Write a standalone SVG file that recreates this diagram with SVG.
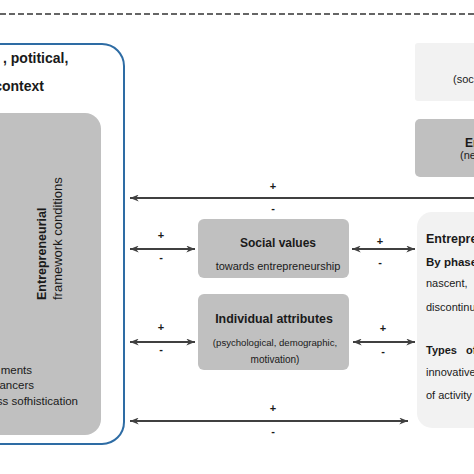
<svg xmlns="http://www.w3.org/2000/svg" width="474" height="474" viewBox="0 0 474 474">
<defs>
<style>
text{font-family:"Liberation Sans",Arial,sans-serif;fill:#1a1a1a}
.b{font-weight:bold}
.sign{font-size:11px;text-anchor:middle;font-weight:bold}
.conn line{stroke:#404040;stroke-width:1.8}
.grey{fill:#c0c0c0}
.light{fill:#f2f2f2}
</style>
<marker id="ah" viewBox="0 0 10 8" refX="10" refY="4" markerWidth="9" markerHeight="7" markerUnits="userSpaceOnUse" orient="auto-start-reverse">
<path d="M0,0 L10,4 L0,8 L3,4 Z" fill="#404040"/>
</marker>
</defs>
<rect width="474" height="474" fill="#ffffff"/>
<line x1="0" y1="14" x2="474" y2="14" stroke="#333" stroke-width="1.4" stroke-dasharray="6,3"/>

<g id="context">
<rect x="-30" y="44" width="154" height="400" rx="22" fill="#ffffff" stroke="#2e6ca4" stroke-width="2"/>
<text class="b" x="3" y="63" font-size="14">, potitical,</text>
<text class="b" x="44" y="91" font-size="14" text-anchor="end">context</text>
</g>

<g id="framework">
<rect class="grey" x="-30" y="113" width="131" height="322" rx="16"/>
<text class="b" font-size="12.5" transform="translate(46,300) rotate(-90)">Entrepreneurial</text>
<text font-size="13" transform="translate(62,300) rotate(-90)">framework conditions</text>
<text x="32" y="374" font-size="11.5" text-anchor="end">ments</text>
<text x="34" y="389" font-size="11.5" text-anchor="end">ancers</text>
<text x="78" y="405" font-size="11.5" text-anchor="end">ss sofhistication</text>
</g>

<g id="social-values">
<rect class="grey" x="198" y="219" width="151" height="59" rx="6"/>
<text class="b" x="278" y="247" font-size="12" text-anchor="middle">Social values</text>
<text x="278" y="270" font-size="11" text-anchor="middle">towards entrepreneurship</text>
</g>

<g id="individual-attributes">
<rect class="grey" x="198" y="294" width="151" height="76" rx="6"/>
<text class="b" x="274" y="323" font-size="12.4" text-anchor="middle">Individual attributes</text>
<text x="275" y="346" font-size="9.6" text-anchor="middle">(psychological, demographic,</text>
<text x="275" y="363" font-size="10" text-anchor="middle">motivation)</text>
</g>

<g id="top-right">
<rect class="light" x="415" y="43" width="80" height="58" rx="3"/>
<text x="453" y="83" font-size="11">(soc</text>
</g>

<g id="mid-right">
<rect class="grey" x="415" y="119" width="80" height="58" rx="5"/>
<text class="b" x="465" y="147" font-size="12">En</text>
<text x="460" y="159" font-size="11">(ne</text>
</g>

<g id="entrepreneurial-activity">
<rect class="light" x="417" y="212" width="80" height="216" rx="15"/>
<text class="b" x="426" y="243" font-size="12.5">Entrepre</text>
<text class="b" x="426" y="266" font-size="11.5">By phases</text>
<text x="426" y="287" font-size="11">nascent,</text>
<text x="426" y="311" font-size="11">discontinu</text>
<text class="b" x="426" y="354" font-size="11">Types</text>
<text class="b" x="466" y="354" font-size="11">of</text>
<text x="426" y="376" font-size="11">innovative</text>
<text x="426" y="399" font-size="11">of activity</text>
</g>

<g id="connectors" class="conn">
<line x1="474" y1="198" x2="130" y2="198" marker-end="url(#ah)"/>
<line x1="130" y1="249" x2="195" y2="249" marker-start="url(#ah)" marker-end="url(#ah)"/>
<line x1="130" y1="342" x2="195" y2="342" marker-start="url(#ah)" marker-end="url(#ah)"/>
<line x1="130" y1="421" x2="408" y2="421" marker-start="url(#ah)" marker-end="url(#ah)"/>
<line x1="352" y1="249" x2="415" y2="249" marker-start="url(#ah)" marker-end="url(#ah)"/>
<line x1="353" y1="342" x2="415" y2="342" marker-start="url(#ah)" marker-end="url(#ah)"/>
<text class="sign" x="273" y="190">+</text>
<text class="sign" x="273" y="212">-</text>
<text class="sign" x="161" y="239">+</text>
<text class="sign" x="161" y="261">-</text>
<text class="sign" x="161" y="331">+</text>
<text class="sign" x="161" y="353">-</text>
<text class="sign" x="273" y="412">+</text>
<text class="sign" x="273" y="435">-</text>
<text class="sign" x="380" y="245">+</text>
<text class="sign" x="380" y="266">-</text>
<text class="sign" x="383" y="332">+</text>
<text class="sign" x="383" y="355">-</text>
</g>
</svg>
